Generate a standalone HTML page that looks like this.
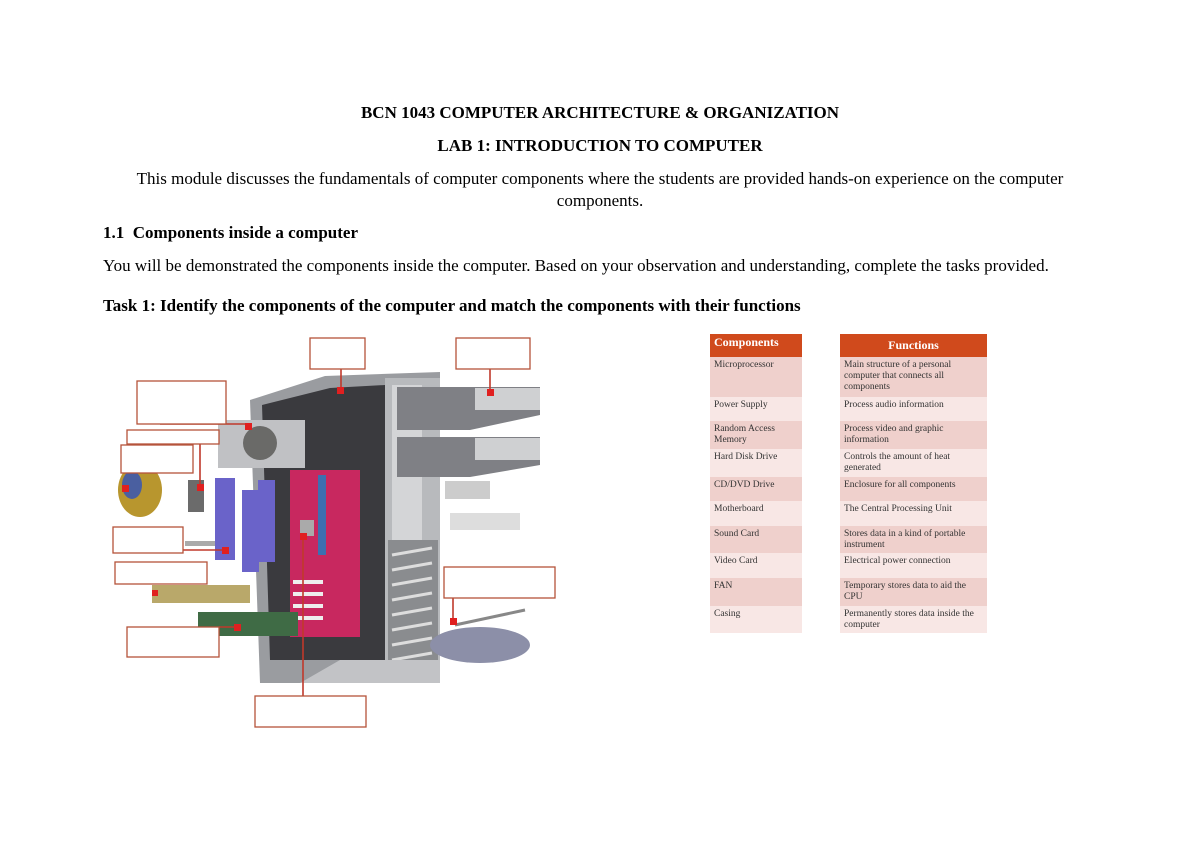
<!DOCTYPE html>
<html><head><meta charset="utf-8"><style>
body{margin:0;background:#fff;width:1200px;height:849px;position:relative;overflow:hidden;font-family:"Liberation Serif",serif;color:#000}
.t{position:absolute;white-space:nowrap;font-size:17px;line-height:20px}
.c{left:0;width:1200px;text-align:center}
.tb{position:absolute;font-family:"Liberation Serif",serif;font-size:9.5px;line-height:11px;color:#333}
.tb div{position:absolute;box-sizing:border-box;padding:3px 4px;overflow:hidden}
.h{background:#d04a1c;color:#fff;font-weight:bold;font-size:12px!important}
.d{background:#efd0cc}.l{background:#f8e7e5}
</style></head><body>
<div class="t c" style="top:103px;font-weight:bold">BCN 1043 COMPUTER ARCHITECTURE &amp; ORGANIZATION</div>
<div class="t c" style="top:136px;font-weight:bold">LAB 1: INTRODUCTION TO COMPUTER</div>
<div class="t c" style="top:169px">This module discusses the fundamentals of computer components where the students are provided hands-on experience on the computer</div>
<div class="t c" style="top:191px">components.</div>
<div class="t" style="left:103px;top:223px;font-weight:bold">1.1&nbsp; Components inside a computer</div>
<div class="t" style="left:103px;top:256px">You will be demonstrated the components inside the computer. Based on your observation and understanding, complete the tasks provided.</div>
<div class="t" style="left:103px;top:296px;font-weight:bold">Task 1: Identify the components of the computer and match the components with their functions</div>

<svg style="position:absolute;left:0;top:0" width="1200" height="849">
<polygon points="250,400 325,376 440,372 440,683 260,683" fill="#9a9ca0"/>
<polygon points="262,405 330,388 385,385 385,660 270,660" fill="#3a3a3e"/>
<polygon points="385,378 440,378 440,683 385,683" fill="#b8babd"/>
<rect x="392" y="385" width="30" height="200" fill="#d4d5d7"/>
<rect x="388" y="540" width="50" height="140" fill="#8a8c8f"/>
<g stroke="#ddd" stroke-width="3">
<line x1="392" y1="555" x2="432" y2="548"/><line x1="392" y1="570" x2="432" y2="563"/><line x1="392" y1="585" x2="432" y2="578"/><line x1="392" y1="600" x2="432" y2="593"/><line x1="392" y1="615" x2="432" y2="608"/><line x1="392" y1="630" x2="432" y2="623"/><line x1="392" y1="645" x2="432" y2="638"/><line x1="392" y1="660" x2="432" y2="653"/></g>
<polygon points="340,660 440,660 440,683 300,683" fill="#c2c3c6"/>
<rect x="290" y="470" width="70" height="167" fill="#c8285f"/>
<rect x="318" y="475" width="8" height="80" fill="#3d6fb0"/>
<rect x="300" y="520" width="14" height="16" fill="#aaa"/>
<g fill="#eee"><rect x="293" y="580" width="30" height="4"/><rect x="293" y="592" width="30" height="4"/><rect x="293" y="604" width="30" height="4"/><rect x="293" y="616" width="30" height="4"/></g>
<rect x="218" y="420" width="87" height="48" fill="#c0c1c4"/>
<circle cx="260" cy="443" r="17" fill="#6a6a68"/>
<rect x="215" y="478" width="20" height="82" fill="#6a63c9"/>
<rect x="242" y="490" width="17" height="82" fill="#6a63c9"/>
<rect x="258" y="480" width="17" height="82" fill="#6a63c9"/>
<ellipse cx="140" cy="490" rx="22" ry="27" fill="#b8962e"/>
<ellipse cx="132" cy="485" rx="10" ry="14" fill="#4a5fa0"/>
<rect x="188" y="480" width="16" height="32" fill="#6b6b6b"/>
<rect x="185" y="541" width="30" height="5" fill="#aaa"/>
<rect x="152" y="585" width="98" height="18" fill="#b9a86a"/>
<rect x="198" y="612" width="100" height="24" fill="#3f6b45"/>
<polygon points="397,387 540,387 540,415 470,430 397,430" fill="#7f8085"/>
<rect x="475" y="388" width="65" height="22" fill="#cfd0d2"/>
<polygon points="397,437 540,437 540,465 470,477 397,477" fill="#7f8085"/>
<rect x="475" y="438" width="65" height="22" fill="#cfd0d2"/>
<rect x="445" y="481" width="45" height="18" fill="#ccc"/>
<rect x="450" y="513" width="70" height="17" fill="#ddd"/>
<ellipse cx="480" cy="645" rx="50" ry="18" fill="#8c8fa8"/>
<line x1="455" y1="625" x2="525" y2="610" stroke="#888" stroke-width="3"/>
<g stroke="#c0392b" stroke-width="1.6" fill="none">
<line x1="341" y1="369" x2="341" y2="391"/><line x1="490" y1="369" x2="490" y2="392"/>
<line x1="160" y1="424" x2="248" y2="424"/><line x1="248" y1="424" x2="248" y2="426"/>
<line x1="200" y1="444" x2="200" y2="486"/><line x1="183" y1="550" x2="225" y2="550"/>
<line x1="303" y1="537" x2="303" y2="696"/><line x1="453" y1="598" x2="453" y2="622"/>
<line x1="219" y1="627" x2="237" y2="627"/>
</g>
<g fill="#e02020"><rect x="337" y="387" width="7" height="7"/><rect x="487" y="389" width="7" height="7"/><rect x="245" y="423" width="7" height="7"/><rect x="197" y="484" width="7" height="7"/><rect x="122" y="485" width="7" height="7"/><rect x="222" y="547" width="7" height="7"/><rect x="300" y="533" width="7" height="7"/><rect x="450" y="618" width="7" height="7"/><rect x="234" y="624" width="7" height="7"/><rect x="152" y="590" width="6" height="6"/></g>
<g fill="#fff" stroke="#b5533a" stroke-width="1.3">
<rect x="310" y="338" width="55" height="31"/><rect x="456" y="338" width="74" height="31"/>
<rect x="137" y="381" width="89" height="43"/><rect x="127" y="430" width="92" height="14"/>
<rect x="121" y="445" width="72" height="28"/><rect x="113" y="527" width="70" height="26"/>
<rect x="115" y="562" width="92" height="22"/><rect x="127" y="627" width="92" height="30"/>
<rect x="255" y="696" width="111" height="31"/><rect x="444" y="567" width="111" height="31"/>
</g>
</svg>

<div class="tb" style="left:0;top:0">
<div class="h" style="left:710px;top:334px;width:92px;height:23px">Components</div>
<div class="h" style="left:840px;top:334px;width:147px;height:23px;text-align:center;padding-top:6px">Functions</div>
<div class="d" style="left:710px;top:357px;width:92px;height:40px">Microprocessor</div>
<div class="d" style="left:840px;top:357px;width:147px;height:40px">Main structure of a personal computer that connects all components</div>
<div class="l" style="left:710px;top:397px;width:92px;height:24px">Power Supply</div>
<div class="l" style="left:840px;top:397px;width:147px;height:24px">Process audio information</div>
<div class="d" style="left:710px;top:421px;width:92px;height:28px">Random Access Memory</div>
<div class="d" style="left:840px;top:421px;width:147px;height:28px">Process video and graphic information</div>
<div class="l" style="left:710px;top:449px;width:92px;height:28px">Hard Disk Drive</div>
<div class="l" style="left:840px;top:449px;width:147px;height:28px">Controls the amount of heat generated</div>
<div class="d" style="left:710px;top:477px;width:92px;height:24px">CD/DVD Drive</div>
<div class="d" style="left:840px;top:477px;width:147px;height:24px">Enclosure for all components</div>
<div class="l" style="left:710px;top:501px;width:92px;height:25px">Motherboard</div>
<div class="l" style="left:840px;top:501px;width:147px;height:25px">The Central Processing Unit</div>
<div class="d" style="left:710px;top:526px;width:92px;height:27px">Sound Card</div>
<div class="d" style="left:840px;top:526px;width:147px;height:27px">Stores data in a kind of portable instrument</div>
<div class="l" style="left:710px;top:553px;width:92px;height:25px">Video Card</div>
<div class="l" style="left:840px;top:553px;width:147px;height:25px">Electrical power connection</div>
<div class="d" style="left:710px;top:578px;width:92px;height:28px">FAN</div>
<div class="d" style="left:840px;top:578px;width:147px;height:28px">Temporary stores data to aid the CPU</div>
<div class="l" style="left:710px;top:606px;width:92px;height:27px">Casing</div>
<div class="l" style="left:840px;top:606px;width:147px;height:27px">Permanently stores data inside the computer</div>
</div>
</body></html>
